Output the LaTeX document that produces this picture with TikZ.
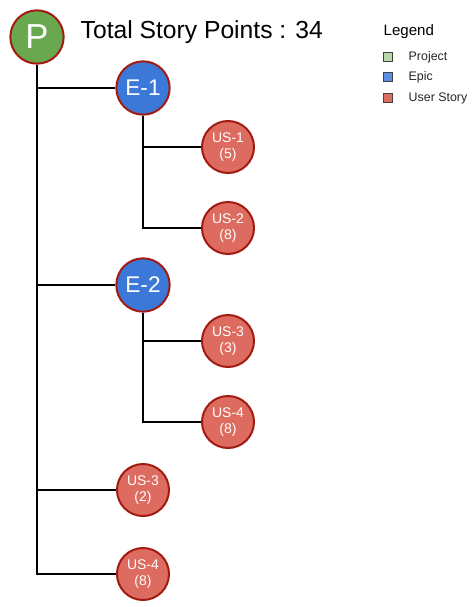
\documentclass[tikz,border=0pt]{standalone}
\usepackage{fontspec}
\setmainfont{Liberation Sans}
\definecolor{projgreen}{HTML}{6AA84F}
\definecolor{epicblue}{HTML}{3C78D8}
\definecolor{storyred}{HTML}{DD6B5F}
\definecolor{rimred}{HTML}{A31A12}
\definecolor{leggreen}{HTML}{B6D7A8}
\definecolor{legblue}{HTML}{5B8FE3}
\tikzset{
  link/.style={line width=1.5pt, black},
  blob/.style={circle, draw=rimred, line width=1.5pt, inner sep=0pt,
    minimum size=40pt, text=white, align=center},
  proj/.style={blob, fill=projgreen, font=\fontsize{26}{26}\selectfont},
  epic/.style={blob, fill=epicblue, font=\fontsize{17}{17}\selectfont},
  story/.style={blob, fill=storyred, minimum size=39pt,
    font=\fontsize{10.5}{12}\selectfont},
  legbox/.style={draw=black!75, line width=0.9pt, minimum size=6.5pt, inner sep=0pt},
  legtext/.style={anchor=west, font=\fontsize{9.3}{9.3}\selectfont, text=black!85},
}

\begin{document}
\begin{tikzpicture}[x=0.75pt, y=-0.75pt]
\useasboundingbox (0,0) rectangle (474,607);

% tree
\node[proj] (P) at (37,37) {P};
\node[anchor=west, font=\fontsize{18.5}{18.5}\selectfont] (title) at (76,32) {Total Story Points : 34};

\node[epic] (E1) at (143,88) {E-1};
\node[story] (US1) at (228,147) {US-1\\(5)};
\node[story] (US2) at (228,228) {US-2\\(8)};

\node[epic] (E2) at (143,285) {E-2};
\node[story] (US3) at (228,341) {US-3\\(3)};
\node[story] (US4) at (228,422) {US-4\\(8)};

\node[story] (US5) at (143,490) {US-3\\(2)};
\node[story] (US6) at (143,574) {US-4\\(8)};

\draw[link] (P.south) |- (E1);
\draw[link] (P.south) |- (E2);
\draw[link] (P.south) |- (US5);
\draw[link] (P.south) |- (US6);
\draw[link] (E1.south) |- (US1);
\draw[link] (E1.south) |- (US2);
\draw[link] (E2.south) |- (US3);
\draw[link] (E2.south) |- (US4);

% legend
\node[anchor=west, font=\fontsize{11.3}{11.3}\selectfont] (leg) at (379,32) {Legend};
\node[legbox, fill=leggreen] (k1) at (388,57) {};
\node[legbox, fill=legblue] (k2) at (388,77) {};
\node[legbox, fill=storyred] (k3) at (388,98) {};
\node[legtext] at (404,57) {Project};
\node[legtext] at (404,77) {Epic};
\node[legtext] at (404,98) {User Story};
\end{tikzpicture}
\end{document}
